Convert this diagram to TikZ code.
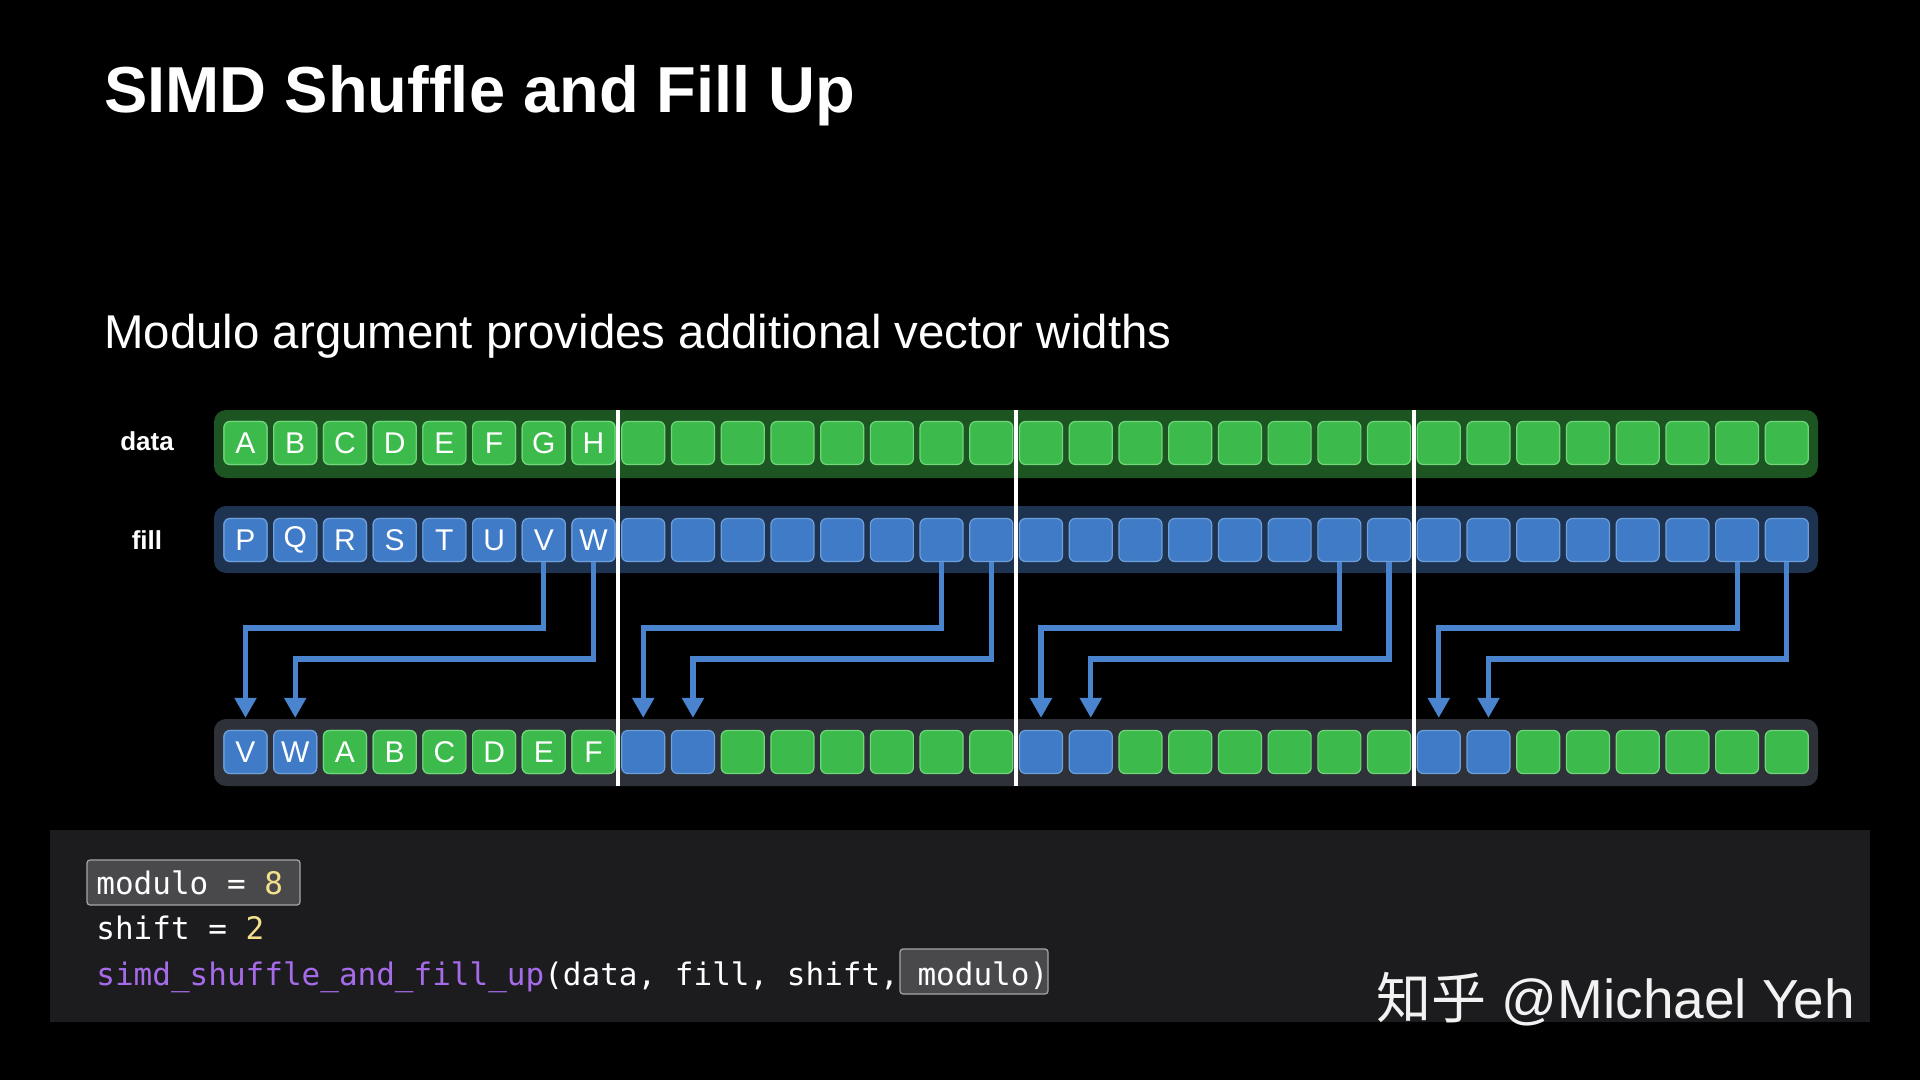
\documentclass[tikz,border=0pt]{standalone}
\usepackage{fontspec}
\setmainfont{Liberation Sans}
\setmonofont{DejaVu Sans Mono}
\newfontfamily\cjk{Noto Sans CJK SC}
\usetikzlibrary{arrows.meta}
\definecolor{gcell}{HTML}{3CBB4C}
\definecolor{gedge}{HTML}{6FD67A}
\definecolor{gbar}{HTML}{1D5522}
\definecolor{bcell}{HTML}{3F7BC6}
\definecolor{bedge}{HTML}{6E9FDA}
\definecolor{bbar}{HTML}{1E3350}
\definecolor{rbar}{HTML}{2E3238}
\definecolor{panel}{HTML}{1C1C1F}
\definecolor{purp}{HTML}{A56BE8}
\definecolor{yel}{HTML}{F3E08C}
\definecolor{arr}{HTML}{4A84CE}
\tikzset{
 gc/.style={fill=gcell,draw=gedge,line width=0.6pt,rounded corners=3pt,minimum width=21.5pt,minimum height=21.5pt,inner sep=0pt,text=white,font=\fontsize{15}{15}\selectfont},
 bc/.style={gc,fill=bcell,draw=bedge},
 barg/.style={fill=gbar,rounded corners=6pt},
 barb/.style={fill=bbar,rounded corners=6pt},
 barr/.style={fill=rbar,rounded corners=6pt},
 sep/.style={white,line width=2pt},
 conn/.style={arr,line width=2.6pt,shorten >=6pt,-{Triangle[width=10.5pt,length=10pt]}},
 lbl/.style={text=white,font=\bfseries\fontsize{13}{13}\selectfont},
 code/.style={anchor=base west,text=white,inner sep=0pt,font=\ttfamily\fontsize{15.5}{15.5}\selectfont},
 cbox/.style={draw=gray!70,fill=white!20!panel,rounded corners=1.5pt,line width=0.6pt}
}
\begin{document}
\begin{tikzpicture}[x=0.5pt,y=-0.5pt]
\fill[black] (0,0) rectangle (1920,1080);
\useasboundingbox (0,0) rectangle (1920,1080);
\node[anchor=base west,inner sep=0pt,text=white,font=\bfseries\fontsize{32.5}{32.5}\selectfont] (title) at (104,113) {SIMD Shuffle and Fill Up};
\node[anchor=base west,inner sep=0pt,text=white,font=\fontsize{23.7}{23.7}\selectfont] (sub) at (104,349) {Modulo argument provides additional vector widths};
\node[lbl] (ldata) at (147,441) {data};
\node[lbl] (lfill) at (147,540) {fill};
\fill[barg] (214,410) rectangle (1818,478);
\fill[barb] (214,506) rectangle (1818,573);
\fill[barr] (214,719) rectangle (1818,786);
\foreach \i in {0,...,31}{
  \pgfmathsetmacro{\cx}{245.5+49.72*\i}
  \node[gc] (d\i) at (\cx,443) {};
  \node[bc] (f\i) at (\cx,540) {};
}
\foreach \i/\t in {0/A,1/B,2/C,3/D,4/E,5/F,6/G,7/H}{\node[gc] at (d\i) {\t};}
\foreach \i/\t in {0/P,1/Q,2/R,3/S,4/T,5/U,6/V,7/W}{\node[bc] at (f\i) {\t};}
\foreach \k in {0,1,2,3}{
  \foreach \j in {0,1}{
    \pgfmathtruncatemacro{\n}{8*\k+\j}
    \pgfmathsetmacro{\cx}{245.5+49.72*\n}
    \node[bc] (r\n) at (\cx,752) {};
  }
  \foreach \j in {2,...,7}{
    \pgfmathtruncatemacro{\n}{8*\k+\j}
    \pgfmathsetmacro{\cx}{245.5+49.72*\n}
    \node[gc] (r\n) at (\cx,752) {};
  }
}
\foreach \i/\t in {0/V,1/W}{\node[bc] at (r\i) {\t};}
\foreach \i/\t in {2/A,3/B,4/C,5/D,6/E,7/F}{\node[gc] at (r\i) {\t};}
\foreach \k in {0,1,2,3}{
  \pgfmathtruncatemacro{\sa}{8*\k+6}
  \pgfmathtruncatemacro{\sb}{8*\k+7}
  \pgfmathtruncatemacro{\ta}{8*\k}
  \pgfmathtruncatemacro{\tb}{8*\k+1}
  \draw[conn] (f\sa.south) |- ([yshift=51pt]r\ta.north) -- (r\ta.north);
  \draw[conn] (f\sb.south) |- ([yshift=35.5pt]r\tb.north) -- (r\tb.north);
}
\foreach \x in {618,1016,1414}{\draw[sep] (\x,410) -- (\x,786);}
\fill[panel] (50,830) rectangle (1870,1022);
\draw[cbox] (87,860) rectangle (300,905);
\draw[cbox] (900,949) rectangle (1048,994);
\node[code] (c1) at (96,894) {modulo = \textcolor{yel}{8}};
\node[code] (c2) at (96,939) {shift = \textcolor{yel}{2}};
\node[code] (c3) at (96,985) {\textcolor{purp}{simd\_shuffle\_and\_fill\_up}(data, fill, shift, modulo)};
\node[anchor=base west,inner sep=0pt,text=white!90!gray,font=\fontsize{27.5}{27.5}\selectfont] (wm) at (1376,1018) {{\cjk 知乎} @Michael Yeh};
\end{tikzpicture}
\end{document}
